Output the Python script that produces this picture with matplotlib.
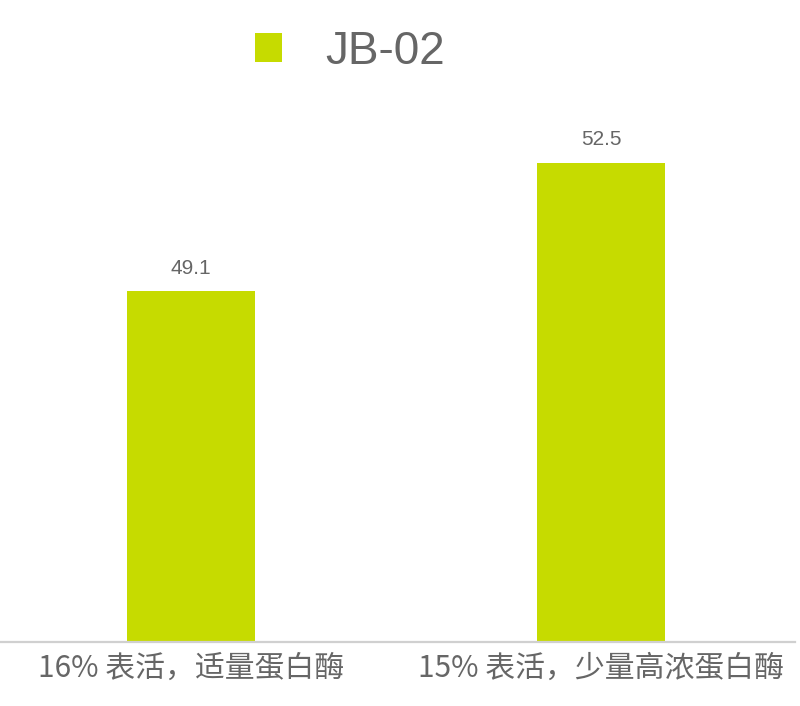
import matplotlib
matplotlib.use("Agg")
import matplotlib.pyplot as plt

categories = ["16% 表活，适量蛋白酶", "15% 表活，少量高浓蛋白酶"]
values = [49.1, 52.5]
series_name = "JB-02"

BAR = "#c6db00"
GREY = "#666666"

fig = plt.figure(figsize=(8, 7.06), dpi=100)
ax = fig.add_axes([0, 64 / 706, 795 / 800, (642 - 100) / 706])

x = list(range(len(categories)))
bars = ax.bar(x, values, width=0.312, color=BAR, label=series_name, zorder=2)

ax.set_xlim(-191 / 410, (795 - 191) / 410)
ax.set_ylim(39.8, 39.8 + 542 / 37.7)

for b, v in zip(bars, values):
    ax.annotate(f"{v}", (b.get_x() + b.get_width() / 2, v), xytext=(0, 10),
                textcoords="offset points", ha="center", va="bottom",
                fontsize=15, color=GREY, family=["Liberation Sans", "DejaVu Sans"])

ax.set_xticks(x)
ax.set_xticklabels(categories, fontsize=21.5, color=GREY, fontweight="medium",
                   family=["Noto Sans CJK SC", "DejaVu Sans"])
ax.tick_params(axis="x", length=0, pad=8)
ax.set_yticks([])
for s in ("left", "right", "top"):
    ax.spines[s].set_visible(False)
ax.spines["bottom"].set_color("#d0d0d0")
ax.spines["bottom"].set_linewidth(1.6)

leg = fig.legend(handles=[bars], labels=[series_name], loc="center",
                 bbox_to_anchor=(350 / 800, 1 - 52 / 706), frameon=False,
                 handlelength=0.6, handleheight=0.6, handletextpad=0.95,
                 prop={"family": "Liberation Sans", "size": 33})
for t in leg.get_texts():
    t.set_color(GREY)

fig.savefig("out.png", dpi=100)
